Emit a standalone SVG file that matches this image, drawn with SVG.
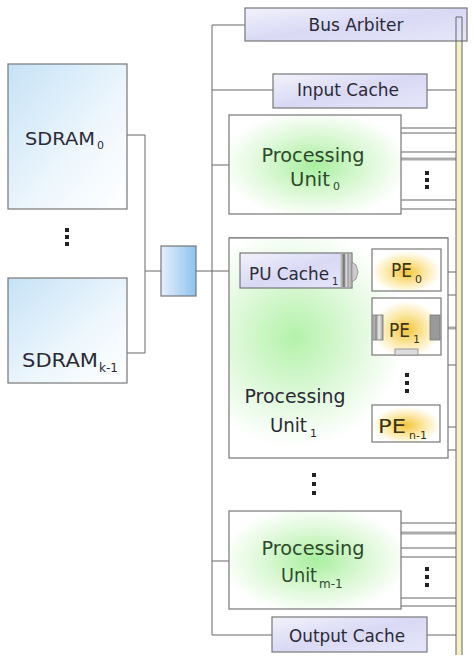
<svg xmlns="http://www.w3.org/2000/svg" width="474" height="663" viewBox="0 0 474 663">
<defs>
<linearGradient id="gSd" x1="0" y1="0" x2="1" y2="1"><stop offset="0" stop-color="#c6e2f6"/><stop offset="0.6" stop-color="#eef7fd"/><stop offset="1" stop-color="#ffffff"/></linearGradient>
<linearGradient id="gBus" x1="0" y1="0" x2="1" y2="1"><stop offset="0" stop-color="#f2f2fc"/><stop offset="0.5" stop-color="#d9d9f5"/><stop offset="1" stop-color="#e6e6fa"/></linearGradient>
<linearGradient id="gSmall" x1="0" y1="0" x2="1" y2="0"><stop offset="0" stop-color="#e3f0fb"/><stop offset="1" stop-color="#8fc2ee"/></linearGradient>
<radialGradient id="gPU" cx="0.5" cy="0.5" r="0.55"><stop offset="0" stop-color="#a8ef9e"/><stop offset="0.55" stop-color="#dcf8d6"/><stop offset="1" stop-color="#ffffff"/></radialGradient>
<radialGradient id="gPU1" cx="0.3" cy="0.45" r="0.5"><stop offset="0" stop-color="#b4f2aa"/><stop offset="0.6" stop-color="#e2f9de"/><stop offset="1" stop-color="#ffffff"/></radialGradient>
<radialGradient id="gPE" cx="0.5" cy="0.55" r="0.5"><stop offset="0" stop-color="#f5c43c"/><stop offset="0.55" stop-color="#fbe9a8"/><stop offset="1" stop-color="#ffffff"/></radialGradient>
<linearGradient id="gStripe" x1="0" y1="0" x2="1" y2="0"><stop offset="0" stop-color="#d8d8d8"/><stop offset="0.3" stop-color="#888"/><stop offset="0.6" stop-color="#eee"/><stop offset="1" stop-color="#999"/></linearGradient>
</defs>
<style>
.ln{stroke:#666;stroke-width:1;fill:none}
.lg{stroke:#aaa;stroke-width:3;fill:none}
.bx{stroke:#777;stroke-width:1.2}
.t{font-family:"DejaVu Sans","Liberation Sans",sans-serif;fill:#2b2b38}
.tg{font-family:"DejaVu Sans","Liberation Sans",sans-serif;fill:#2e4a2c}
.tp{font-family:"DejaVu Sans","Liberation Sans",sans-serif;fill:#3d3512}
.dot{fill:#222}
</style>
<rect width="474" height="663" fill="#ffffff"/>

<g id="connectors">
<polyline class="ln" points="127,135 145,135 145,353 127,353" stroke="#888"/>
<line class="ln" x1="145" y1="271" x2="161" y2="271"/>
<line class="ln" x1="196" y1="271" x2="240" y2="271"/>
<line class="ln" x1="212" y1="25" x2="212" y2="635"/>
<line class="ln" x1="212" y1="25" x2="245" y2="25"/>
<line class="ln" x1="212" y1="90" x2="273" y2="90"/>
<line class="ln" x1="427" y1="90" x2="456" y2="90"/>
<line class="ln" x1="212" y1="165" x2="229" y2="165"/>
<line class="ln" x1="212" y1="561" x2="229" y2="561"/>
<line class="ln" x1="212" y1="635" x2="272" y2="635"/>
<line class="ln" x1="427" y1="635" x2="456" y2="635"/>
<line class="ln" x1="401" y1="128" x2="456" y2="128" stroke="#999"/>
<line class="ln" x1="401" y1="133" x2="456" y2="133" stroke="#999"/>
<line class="ln" x1="401" y1="152" x2="456" y2="152" stroke="#444"/>
<line class="lg" x1="401" y1="159" x2="456" y2="159"/>
<line class="ln" x1="401" y1="200" x2="456" y2="200" stroke="#999"/>
<line class="ln" x1="401" y1="209" x2="456" y2="209" stroke="#333" stroke-width="1.5"/>
<line class="ln" x1="401" y1="523" x2="456" y2="523" stroke="#777"/>
<line class="lg" x1="401" y1="533" x2="456" y2="533"/>
<line class="ln" x1="401" y1="548" x2="456" y2="548" stroke="#555"/>
<line class="ln" x1="401" y1="557" x2="456" y2="557" stroke="#999"/>
<line class="ln" x1="401" y1="598" x2="456" y2="598" stroke="#777"/>
<line class="ln" x1="401" y1="606" x2="456" y2="606" stroke="#444" stroke-width="1.5"/>
<line class="ln" x1="229" y1="238" x2="448" y2="238" stroke="#555"/>
<line class="ln" x1="358" y1="272" x2="372" y2="272" stroke="#444"/>
<polyline class="ln" points="366,272 366,427 372,427" stroke="#555"/>
<line class="ln" x1="366" y1="328" x2="373" y2="328"/>
<line class="ln" x1="441" y1="272" x2="456" y2="272" stroke="#444"/>
<polyline class="ln" points="405,291 405,295 456,295" stroke="#444"/>
<line class="lg" x1="441" y1="328" x2="456" y2="328"/>
<polyline class="ln" points="406,355 406,365 456,365" stroke="#444"/>
<line class="ln" x1="440" y1="427" x2="456" y2="427" stroke="#999"/>
<polyline class="ln" points="405,442 405,450 456,450" stroke="#999"/>
</g>

<g id="sdram0">
<rect class="bx" x="8" y="64" width="119" height="145" fill="url(#gSd)"/>
<text class="t" x="25" y="145" font-size="18" fill="#222" textLength="70" lengthAdjust="spacingAndGlyphs">SDRAM</text>
<text class="t" x="97" y="149" font-size="11" fill="#222">0</text>
</g>
<g id="sdram-dots">
<rect class="dot" x="65" y="228" width="4" height="4"/>
<rect class="dot" x="65" y="235" width="4" height="4"/>
<rect class="dot" x="65" y="242" width="4" height="4"/>
</g>
<g id="sdramk1">
<rect class="bx" x="8" y="278" width="119" height="105" fill="url(#gSd)"/>
<text class="t" x="22" y="367" font-size="20" fill="#222" textLength="76" lengthAdjust="spacingAndGlyphs">SDRAM</text>
<text class="t" x="99" y="372" font-size="12" fill="#222">k-1</text>
</g>
<g id="switch">
<rect class="bx" x="161" y="246" width="35" height="50" fill="url(#gSmall)"/>
<line x1="173" y1="247" x2="173" y2="295" stroke="#cfe3f5" stroke-width="1"/>
<line x1="184" y1="247" x2="184" y2="295" stroke="#b7d6f2" stroke-width="1"/>
</g>

<g id="rail">
<rect x="456" y="17" width="6" height="638" fill="#f5f0c6" stroke="none"/>
</g>

<g id="bus-arbiter">
<rect class="bx" x="245" y="8" width="222" height="33" fill="url(#gBus)"/>
<text class="t" x="356" y="31" font-size="17" text-anchor="middle" textLength="95" lengthAdjust="spacingAndGlyphs">Bus Arbiter</text>
</g>
<g id="rail-lines">
<line class="ln" x1="456" y1="17" x2="456" y2="655" stroke="#777"/>
<line class="ln" x1="462" y1="17" x2="462" y2="655" stroke="#777"/>
<line class="ln" x1="456" y1="17" x2="462" y2="17" stroke="#777"/>
</g>

<g id="input-cache">
<rect class="bx" x="273" y="74" width="154" height="34" fill="url(#gBus)"/>
<text class="t" x="348" y="96" font-size="17" text-anchor="middle" textLength="102" lengthAdjust="spacingAndGlyphs">Input Cache</text>
</g>

<g id="pu0">
<rect class="bx" x="229" y="115" width="172" height="99" fill="url(#gPU)"/>
<text class="tg" x="313" y="162" font-size="20" text-anchor="middle" textLength="103" lengthAdjust="spacingAndGlyphs">Processing</text>
<text class="tg" x="290" y="186" font-size="20" textLength="40" lengthAdjust="spacingAndGlyphs">Unit</text>
<text class="tg" x="333" y="190" font-size="11">0</text>
<rect class="dot" x="425" y="171" width="4" height="4"/>
<rect class="dot" x="425" y="178" width="4" height="4"/>
<rect class="dot" x="425" y="185" width="4" height="4"/>
</g>

<g id="pu1">
<rect class="bx" x="229" y="238" width="219" height="220" fill="url(#gPU1)"/>
<text class="t" x="295" y="403" font-size="20" text-anchor="middle" fill="#333" textLength="101" lengthAdjust="spacingAndGlyphs">Processing</text>
<text class="t" x="270" y="432" font-size="20" fill="#333" textLength="37" lengthAdjust="spacingAndGlyphs">Unit</text>
<text class="t" x="310" y="437" font-size="11" fill="#333">1</text>
</g>

<g id="pu-cache1">
<rect class="bx" x="240" y="253" width="112" height="35" fill="url(#gBus)"/>
<rect x="340" y="254" width="12" height="33" fill="url(#gStripe)"/>
<line x1="344" y1="254" x2="344" y2="287" stroke="#666" stroke-width="1"/>
<line x1="348" y1="254" x2="348" y2="287" stroke="#777" stroke-width="1"/>
<polygon points="352,262 356,265 358,272 356,279 352,282" fill="#ccc" stroke="#888" stroke-width="0.8"/>
<text class="t" x="249" y="280" font-size="17" textLength="80" lengthAdjust="spacingAndGlyphs">PU Cache</text>
<text class="t" x="332" y="285" font-size="10">1</text>
</g>

<g id="pe0">
<rect class="bx" x="372" y="249" width="69" height="42" fill="url(#gPE)"/>
<text class="tp" x="391" y="277" font-size="20" textLength="21" lengthAdjust="spacingAndGlyphs">PE</text>
<text class="tp" x="415" y="283" font-size="11">0</text>
</g>
<g id="pe1">
<rect class="bx" x="372" y="298" width="69" height="57" fill="url(#gPE)"/>
<rect x="373" y="315" width="10" height="25" fill="url(#gStripe)" stroke="#777" stroke-width="0.8"/>
<rect x="430" y="315" width="10" height="25" fill="#999" stroke="#777" stroke-width="0.8"/>
<rect x="395" y="349" width="23" height="6" fill="#ddd" stroke="#888" stroke-width="0.8"/>
<text class="tp" x="389" y="337" font-size="20" textLength="21" lengthAdjust="spacingAndGlyphs">PE</text>
<text class="tp" x="413" y="343" font-size="11">1</text>
</g>
<g id="pe-dots">
<rect class="dot" x="405" y="373" width="4" height="4"/>
<rect class="dot" x="405" y="381" width="4" height="4"/>
<rect class="dot" x="405" y="389" width="4" height="4"/>
</g>
<g id="pen1">
<rect class="bx" x="372" y="405" width="68" height="37" fill="url(#gPE)"/>
<text class="tp" x="378" y="433" font-size="20" textLength="28" lengthAdjust="spacingAndGlyphs">PE</text>
<text class="tp" x="409" y="439" font-size="11">n-1</text>
</g>

<g id="pu-dots">
<rect class="dot" x="312" y="473" width="4" height="4"/>
<rect class="dot" x="312" y="482" width="4" height="4"/>
<rect class="dot" x="312" y="491" width="4" height="4"/>
</g>

<g id="pum1">
<rect class="bx" x="229" y="511" width="172" height="98" fill="url(#gPU)"/>
<text class="tg" x="313" y="555" font-size="20" text-anchor="middle" textLength="103" lengthAdjust="spacingAndGlyphs">Processing</text>
<text class="tg" x="281" y="582" font-size="20" textLength="36" lengthAdjust="spacingAndGlyphs">Unit</text>
<text class="tg" x="319" y="588" font-size="12">m-1</text>
<rect class="dot" x="425" y="567" width="4" height="4"/>
<rect class="dot" x="425" y="575" width="4" height="4"/>
<rect class="dot" x="425" y="583" width="4" height="4"/>
</g>

<g id="output-cache">
<rect class="bx" x="272" y="617" width="155" height="35" fill="url(#gBus)"/>
<text class="t" x="347" y="642" font-size="17" text-anchor="middle" textLength="116" lengthAdjust="spacingAndGlyphs">Output Cache</text>
</g>
</svg>
